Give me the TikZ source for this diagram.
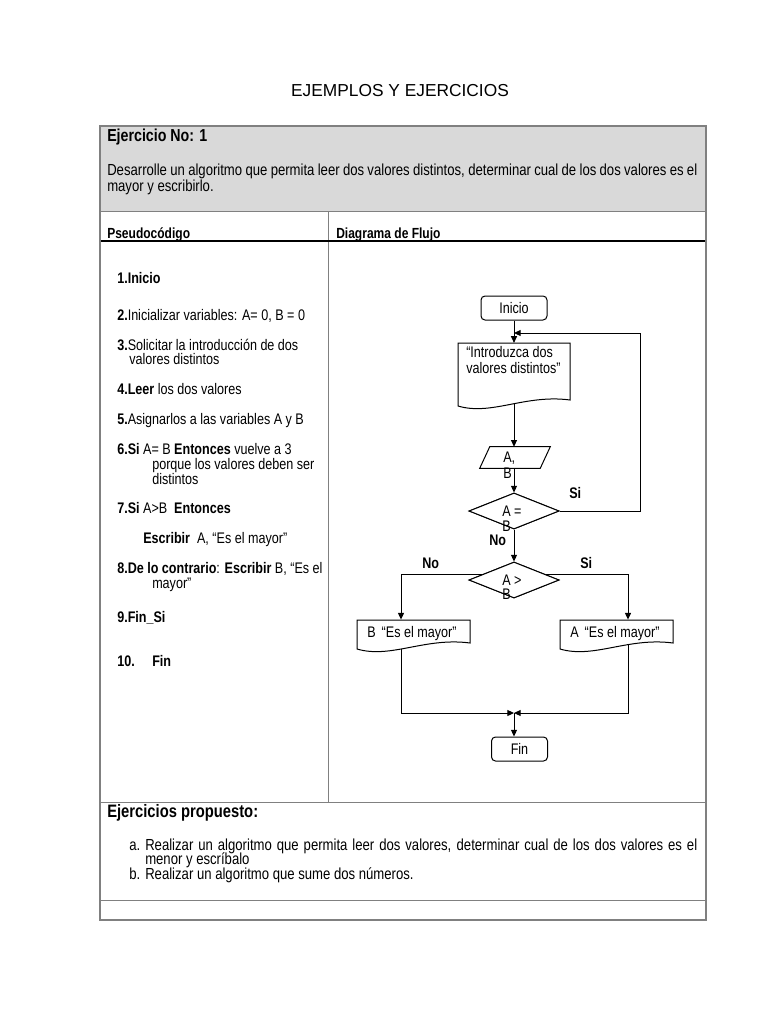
\documentclass[tikz,border=0pt]{standalone}
\usepackage{fontspec}
\setmainfont[FakeStretch=0.82]{Liberation Sans}
\newfontfamily\widefont{Liberation Sans}
\usetikzlibrary{shapes.geometric,arrows.meta,calc}
\definecolor{hdrgray}{HTML}{D9D9D9}
\definecolor{rulegray}{HTML}{808080}
\newcommand\docpath[4]{%
  \draw[fl, fill=white] (#1,#3) -- (#2,#3) -- (#2,{#4-6})
    .. controls ({#1+0.6*(#2-#1)},{#4-12}) and ({#1+0.3*(#2-#1)},{#4+10}) .. (#1,#4) -- cycle;}
\begin{document}
\begin{tikzpicture}[x=0.75pt,y=-0.75pt,
  txt/.style={anchor=base west, inner sep=0, font=\fontsize{11.5}{13}\selectfont},
  dtxt/.style={anchor=base west, inner sep=0, font=\fontsize{12}{14}\selectfont},
  btxt/.style={anchor=base west, inner sep=0, font=\fontsize{11.5}{13}\selectfont\bfseries},
  fl/.style={line width=0.75pt},
  arr/.style={fl, -{Triangle[length=5pt,width=4.5pt]}},
  term/.style={draw, fl, rounded corners=3pt, minimum height=18pt, inner sep=0, fill=white,
               font=\fontsize{11.5}{13}\selectfont},
  decision/.style={diamond, draw, fl, fill=white, minimum width=67.5pt, minimum height=27pt, inner sep=0},
  anchorbox/.style={draw=none, inner sep=0},
  tline/.style={draw=rulegray, line width=0.75pt}]
\useasboundingbox (0,0) rectangle (768,1024);
\fill[white] (0,0) rectangle (768,1024);

% ---------- table ----------
\fill[hdrgray] (100,126) rectangle (706,211);
\draw[tline] (100,211) -- (706,211);
\draw[tline] (328,211) -- (328,802);
\draw[tline] (100,802) -- (706,802);
\draw[tline] (100,900) -- (706,900);
\draw[black, line width=0.8pt] (100,241) -- (706,241);
\draw[draw=rulegray, line width=1.2pt] (100,126) rectangle (706,920);

\node[anchor=base, inner sep=0, font=\widefont\fontsize{13}{15}\selectfont] (title) at (400,96) {EJEMPLOS Y EJERCICIOS};
\node[anchor=base west, inner sep=0, font=\fontsize{13}{15}\selectfont\bfseries] (ejno) at (107,142) {Ejercicio No: 1};
\node[dtxt] (desc1) at (107,175) {\makebox[442.5pt][s]{Desarrolle un algoritmo que permita leer dos valores distintos, determinar cual de los dos valores es el}};
\node[dtxt] (desc2) at (107,191) {mayor y escribirlo.};
\node[anchor=base west, inner sep=0, font=\fontsize{11}{13}\selectfont\bfseries] (hp) at (107,238) {Pseudocódigo};
\node[anchor=base west, inner sep=0, font=\fontsize{11}{13}\selectfont\bfseries] (hd) at (336,238) {Diagrama de Flujo};

% ---------- pseudocode ----------
\node[txt] (p1) at (117,283) {\textbf{1.Inicio}};
\node[txt] (p2) at (117,320) {\textbf{2.}Inicializar variables: A= 0, B = 0};
\node[txt] (p3) at (117,350) {\textbf{3.}Solicitar la introducción de dos};
\node[txt] (p3b) at (129,364) {valores distintos};
\node[txt] (p4) at (117,394) {\textbf{4.Leer} los dos valores};
\node[txt] (p5) at (117,424) {\textbf{5.}Asignarlos a las variables A y B};
\node[txt] (p6) at (117,454) {\textbf{6.Si} A= B \textbf{Entonces} vuelve a 3};
\node[txt] (p6b) at (152,469) {porque los valores deben ser};
\node[txt] (p6c) at (152,484) {distintos};
\node[txt] (p7) at (117,513) {\textbf{7.Si} A>B\ \ \textbf{Entonces}};
\node[txt] (p7b) at (143,543) {\textbf{Escribir}\ \ A, “Es el mayor”};
\node[txt] (p8) at (117,573) {\textbf{8.De lo contrario}: \textbf{Escribir} B, “Es el};
\node[txt] (p8b) at (152,588) {mayor”};
\node[txt] (p9) at (117,622) {\textbf{9.Fin\_Si}};
\node[txt] (p10) at (117,666) {\textbf{10.}};
\node[txt] (p10b) at (152,666) {\textbf{Fin}};

% ---------- flowchart anchors ----------
\node[anchorbox, minimum width=84pt, minimum height=47pt] (doc1) at (514,374.5) {};
\node[anchorbox, minimum width=52.5pt, minimum height=15.75pt] (io) at (515,457.5) {};
\node[anchorbox, minimum width=84.75pt, minimum height=22pt] (docB) at (413.5,634.5) {};
\node[anchorbox, minimum width=84.75pt, minimum height=22pt] (docA) at (616.5,634.5) {};
\coordinate (loopend) at (514,333);
\coordinate (join) at (514,713);
\coordinate (d1out) at (514,398);
\coordinate (docBout) at (401,640);
\coordinate (docAout) at (628,640);

\node[decision] (d1) at (514,511) {};
\node[decision] (d2) at (514,580) {};
\node[term, minimum width=49.5pt] (inicio) at (514,308) {Inicio};
\node[term, minimum width=42pt] (fin) at (519.5,749) {Fin};

% ---------- connectors (drawn before the filled shapes) ----------
\draw[arr] (inicio.south) -- (doc1.north);
\draw[arr] (d1.east) -- (640,511) |- (loopend);
\draw[arr] (d1out) -- (io.north -| d1out);
\draw[arr] (io.south -| d1.north) -- (d1.north);
\draw[arr] (d1.south) -- (d2.north);
\draw[arr] ($(d2.center)+(0,-6)$) -| (docB.north -| docBout);
\draw[arr] ($(d2.center)+(0,-6)$) -| (docA.north -| docAout);
\draw[arr] (docBout) |- (join);
\draw[arr] (docAout) |- (join);
\draw[arr] (join) -- (join |- fin.north);

% ---------- shapes ----------
\node[decision] (d1s) at (d1) {};
\node[decision] (d2s) at (d2) {};
\docpath{458}{570}{343}{406}
\docpath{357}{470}{620}{649}
\docpath{560}{673}{620}{649}
\draw[fl, fill=white] ($(io.north west)+(10,0)$) -- (io.north east) -- ($(io.south east)+(-10,0)$) -- (io.south west) -- cycle;

% ---------- flowchart texts ----------
\node[txt] (t1a) at (466,357) {“Introduzca dos};
\node[txt] (t1b) at (466,373) {valores distintos”};
\node[txt] (tio1) at (503,462) {A,};
\node[txt] (tio2) at (503,478) {B};
\node[txt] (td1a) at (502,516) {A =};
\node[txt] (td1b) at (502,531) {B};
\node[txt] (td2a) at (502,585) {A >};
\node[txt] (td2b) at (502,599) {B};
\node[txt] (tB) at (367,637) {B \,“Es el mayor”};
\node[txt] (tA) at (570,637) {A \,“Es el mayor”};
\node[btxt] (lsi1) at (569,498) {Si};
\node[btxt] (lno1) at (489,545) {No};
\node[btxt] (lno2) at (422,568) {No};
\node[btxt] (lsi2) at (580,568) {Si};

% ---------- proposed exercises ----------
\node[anchor=base west, inner sep=0, font=\fontsize{13.5}{15}\selectfont\bfseries] (ejp) at (107,817) {Ejercicios propuesto:};
\node[dtxt] (la) at (129,850) {a.};
\node[dtxt] (ia1) at (145,850) {\makebox[414pt][s]{Realizar un algoritmo que permita leer dos valores, determinar cual de los dos valores es el}};
\node[dtxt] (ia2) at (145,864) {menor y escríbalo};
\node[dtxt] (lb) at (129,879) {b.};
\node[dtxt] (ib) at (145,879) {Realizar un algoritmo que sume dos números.};
\end{tikzpicture}
\end{document}
